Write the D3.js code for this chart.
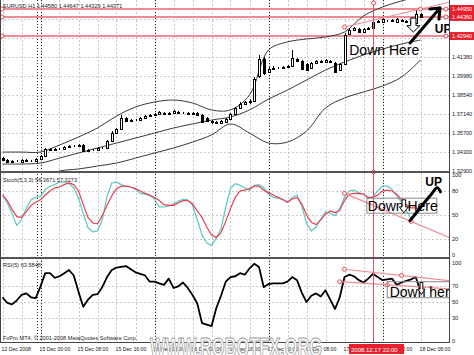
<!DOCTYPE html>
<html>
<head>
<meta charset="utf-8">
<script src="https://cdn.jsdelivr.net/npm/d3@7/dist/d3.min.js"></script>
<style>
  body { margin: 0; background: #fff; }
  svg { display: block; font-family: "Liberation Sans", Arial, sans-serif; }
</style>
</head>
<body>
<svg id="chart" width="474" height="355"></svg>
<script>
// EURUSD H1, 12 Dec 16:00 .. 18 Dec 08:00 (89 bars)
const opens = [1.3386,1.3372,1.3357,1.3364,1.3357,1.3372,1.3364,1.3364,1.3379,1.3401,
  1.3453,1.3446,1.3453,1.3453,1.3468,1.3476,1.3476,1.3483,1.3439,1.3446,
  1.3446,1.3461,1.3461,1.3513,1.3572,1.3602,1.3684,1.3662,1.3669,1.3669,
  1.3684,1.3699,1.3706,1.3714,1.3721,1.3714,1.3721,1.3729,1.3721,1.3721,
  1.3714,1.3721,1.3706,1.3684,1.3662,1.3654,1.3647,1.3654,1.3677,1.3714,
  1.3759,1.3788,1.3803,1.3811,1.3997,1.4123,1.4026,1.4049,1.4056,1.4056,
  1.4064,1.4071,1.4123,1.4108,1.4086,1.4056,1.4093,1.4108,1.4101,1.4108,
  1.4093,1.4041,1.4086,1.4309,1.4339,1.4346,1.4324,1.4346,1.4354,1.4398,
  1.4398,1.4406,1.4413,1.4398,1.4413,1.4406,1.4406,1.4391,1.4458]
const highs = [1.3394,1.3379,1.3372,1.3372,1.3379,1.3379,1.3372,1.3386,1.3409,1.3461,
  1.3461,1.3461,1.3461,1.3476,1.3483,1.3483,1.3491,1.3491,1.3453,1.3453,
  1.3468,1.3468,1.3520,1.3587,1.3610,1.3706,1.3692,1.3677,1.3677,1.3692,
  1.3706,1.3714,1.3721,1.3736,1.3729,1.3729,1.3744,1.3736,1.3729,1.3729,
  1.3729,1.3729,1.3714,1.3692,1.3669,1.3662,1.3669,1.3684,1.3721,1.3766,
  1.3803,1.3811,1.3825,1.3989,1.4153,1.4138,1.4064,1.4071,1.4064,1.4071,
  1.4078,1.4190,1.4130,1.4116,1.4093,1.4101,1.4116,1.4116,1.4123,1.4116,
  1.4101,1.4093,1.4316,1.4354,1.4361,1.4354,1.4354,1.4361,1.4406,1.4413,
  1.4428,1.4413,1.4421,1.4428,1.4421,1.4413,1.4413,1.4488,1.4465]
const lows = [1.3364,1.3349,1.3349,1.3357,1.3349,1.3357,1.3357,1.3357,1.3372,1.3394,
  1.3439,1.3439,1.3446,1.3446,1.3461,1.3468,1.3468,1.3431,1.3431,1.3439,
  1.3439,1.3453,1.3453,1.3505,1.3565,1.3595,1.3654,1.3654,1.3662,1.3662,
  1.3677,1.3692,1.3699,1.3706,1.3706,1.3706,1.3714,1.3714,1.3714,1.3706,
  1.3706,1.3699,1.3647,1.3654,1.3640,1.3640,1.3640,1.3647,1.3669,1.3706,
  1.3751,1.3781,1.3788,1.3803,1.3982,1.4004,1.4019,1.4041,1.4049,1.4049,
  1.4056,1.4064,1.4101,1.4041,1.4034,1.4049,1.4086,1.4093,1.4093,1.4093,
  1.4019,1.4034,1.4078,1.4302,1.4331,1.4316,1.4316,1.4339,1.4346,1.4391,
  1.4391,1.4398,1.4398,1.4391,1.4398,1.4391,1.4383,1.4383,1.4433]
const closes = [1.3372,1.3357,1.3364,1.3365,1.3372,1.3364,1.3366,1.3379,1.3401,1.3453,
  1.3446,1.3453,1.3455,1.3468,1.3476,1.3477,1.3483,1.3439,1.3446,1.3447,
  1.3461,1.3462,1.3513,1.3572,1.3602,1.3684,1.3662,1.3669,1.3670,1.3684,
  1.3699,1.3706,1.3714,1.3729,1.3714,1.3721,1.3736,1.3721,1.3722,1.3714,
  1.3721,1.3706,1.3654,1.3662,1.3654,1.3647,1.3662,1.3677,1.3714,1.3759,
  1.3788,1.3803,1.3811,1.3974,1.4123,1.4019,1.4049,1.4056,1.4057,1.4064,
  1.4071,1.4130,1.4108,1.4049,1.4041,1.4093,1.4108,1.4101,1.4116,1.4101,
  1.4026,1.4086,1.4302,1.4339,1.4354,1.4324,1.4346,1.4354,1.4398,1.4406,
  1.4421,1.4407,1.4406,1.4421,1.4406,1.4398,1.4391,1.4456,1.4437]

// Bollinger bands read every 4 bars
const bbBars = [0,4,8,12,16,20,24,28,32,36,40,44,48,52,56,60,64,68,72,76,80,84,88]
const bbUpper = [1.3431,1.3431,1.3431,1.3483,1.3543,1.3610,1.3699,1.3766,1.3803,1.3818,1.3796,1.3744,
  1.3744,1.3855,1.4190,1.4250,1.4272,1.4287,1.4324,1.4443,1.4510,1.4555,1.4592]
const bbMiddle = [1.3342,1.3342,1.3349,1.3386,1.3424,1.3461,1.3498,1.3535,1.3572,1.3610,1.3640,1.3669,
  1.3692,1.3744,1.3825,1.3892,1.3967,1.4041,1.4101,1.4153,1.4197,1.4235,1.4264]
const bbLower = [1.3238,1.3238,1.3245,1.3290,1.3305,1.3327,1.3349,1.3386,1.3424,1.3461,1.3505,1.3558,
  1.3640,1.3572,1.3498,1.3505,1.3587,1.3759,1.3833,1.3878,1.3922,1.3989,1.4116]

const stochK = [75,65,52,37,44,58,69,72,73,82,86,88,91,91,89,84,71,52,34,29,
  30,44,73,90,91,88,86,85,82,77,76,74,70,60,60,61,64,67,70,69,
  62,44,25,15,12,21,33,60,83,89,87,84,81,87,88,84,76,72,71,70,
  66,72,75,61,40,30,35,45,54,52,49,58,72,80,81,78,76,71,73,80,
  86,86,82,74,66,56,46,51,56.4]
const stochD = [75,68,57,48,47,54,62,66,69,75,80,84,85,88,90,88,80,63,47,40,
  39,49,62,74,83,86,86,85,83,80,77,75,72,68,63,62,62,65,68,68,
  64,55,47,35,25,22,28,42,58,72,80,81,83,86,86,81,78,75,72,69,
  66,70,72,64,50,41,38,44,51,55,53,56,68,76,77,77,76,72,72,75,
  80,81,80,76,69,63,59,59,57.3]
const rsi = [56,49,47,52,59,61,56,55,70,87,87,81,83,87,91,84,63,44,53,59,
  60,69,82,91,94,95,96,92,88,86,84,76,76,74,72,80,68,70,75,68,
  59,48,23,21,19,42,58,76,82,83,87,85,93,99,95,69,73,74,74,74,
  76,82,78,62,50,58,61,57,65,53,41,56,82,85,83,78,75,80,86,82,
  78,79,80,72,75,77,79,82,63.6]

const priceTicks = [1.3290,1.3430,1.3570,1.3714,1.3854,1.3998,1.4138,1.4278,1.4418]
const stochTicks = [100,80,50,20,0]
const rsiTicks = [100,70,50,30,0]
const timeLabelBars = [0,8,16,24,32,40,48,56,64,72,80,88]
const timeLabels = ['12 Dec 2008','15 Dec 00:00','15 Dec 08:00','15 Dec 16:00','16 Dec 00:00','16 Dec 08:00',
  '16 Dec 16:00','17 Dec 00:00','17 Dec 08:00','17 Dec 16:00','18 Dec 00:00','18 Dec 08:00']
const daySeparatorBars = [8,32,56,80]
const hLevels = [1.4495,1.4436,1.4294]
const cursorBar = 78
const cursorLabel = '2008.12.17 22:00'

// trendlines: two anchors each [bar, value]
const mainTrend = [[72,1.4361],[88,1.4495]]
const stochTrend = [[72,77],[86,42]]
const rsiTrendUpper = [[72,92],[84,84]]
const rsiTrendLower = [[71,76],[81,72]]

const svg = d3.select('#chart')
const plotRight = 449
const panels = {
    main: {top: 0, bottom: 171},
    stoch: {top: 173, bottom: 257},
    rsi: {top: 259, bottom: 342}
}

const x = d3.scaleLinear().domain([0, 88]).range([2.5, 420.5])
const yPrice = d3.scaleLinear().domain([1.3290, 1.4138]).range([171, 57])
const yStoch = d3.scaleLinear().domain([0, 100]).range([255, 175])
const yRsi = d3.scaleLinear().domain([0, 100]).range([341, 263])
const px = v => Math.round(v) + 0.5
const redLine = '#f08a94'
const red = '#e8202e'

const defs = svg.append('defs')
Object.entries(panels).forEach(([name, p]) => {
    defs.append('clipPath').attr('id', 'clip-' + name)
        .append('rect').attr('x', 0).attr('y', p.top).attr('width', plotRight).attr('height', p.bottom - p.top)
})

drawGrid()
const gMain = svg.append('g').attr('clip-path', 'url(#clip-main)')
const gStoch = svg.append('g').attr('clip-path', 'url(#clip-stoch)')
const gRsi = svg.append('g').attr('clip-path', 'url(#clip-rsi)')
drawMain(gMain)
drawStoch(gStoch)
drawRsi(gRsi)
drawCursor()
drawFrame()
drawAxes()
drawAnnotations()

function drawGrid() {
    const g = svg.append('g')
    const gridBars = d3.range(0, 89, 4)
    Object.values(panels).forEach(p => {
        g.selectAll(null).data(gridBars).enter().append('line')
            .attr('x1', d => px(x(d))).attr('x2', d => px(x(d)))
            .attr('y1', p.top).attr('y2', p.bottom)
            .attr('stroke', '#c8c8c8').attr('stroke-dasharray', '2,2')
    })
    const hGrid = [
        ...priceTicks.slice(1).map(v => yPrice(v)),
        ...[80, 50, 20].map(v => yStoch(v)),
        ...[70, 50, 30].map(v => yRsi(v))
    ]
    g.selectAll(null).data(hGrid).enter().append('line')
        .attr('x1', 0).attr('x2', plotRight)
        .attr('y1', d => px(d)).attr('y2', d => px(d))
        .attr('stroke', '#c8c8c8').attr('stroke-dasharray', '2,2')

    // day separators
    const sepX = [x(daySeparatorBars[0]) - 4, ...daySeparatorBars.map(b => x(b))]
    g.selectAll(null).data(sepX).enter().append('line')
        .attr('x1', d => px(d)).attr('x2', d => px(d))
        .attr('y1', 0).attr('y2', panels.rsi.bottom)
        .attr('stroke', '#222').attr('stroke-dasharray', '1,2')
}

function drawMain(g) {
    // red horizontal levels
    g.selectAll(null).data(hLevels).enter().append('line')
        .attr('x1', 0).attr('x2', plotRight)
        .attr('y1', d => yPrice(d)).attr('y2', d => yPrice(d))
        .attr('stroke', redLine).attr('stroke-width', 2)
    hLevels.forEach(v => {
        [2, plotRight - 3].forEach(cx => {
            g.append('circle').attr('cx', cx).attr('cy', yPrice(v)).attr('r', 2)
                .attr('fill', '#fff').attr('stroke', red).attr('stroke-width', 0.8)
        })
    })

    // bollinger bands
    const band = vals => d3.line()
        .x((d, i) => x(bbBars[i]))
        .y(d => yPrice(d))
        .curve(d3.curveCatmullRom)(vals)
    ;[bbUpper, bbMiddle, bbLower].forEach(vals => {
        g.append('path').attr('d', band(vals))
            .attr('fill', 'none').attr('stroke', '#3a3a3a').attr('stroke-width', 1)
    })

    // candles
    const candles = opens.map((o, i) => ({i, o, h: highs[i], l: lows[i], c: closes[i]}))
    g.selectAll('line.wick').data(candles).enter().append('line')
        .attr('class', 'wick')
        .attr('x1', d => px(x(d.i))).attr('x2', d => px(x(d.i)))
        .attr('y1', d => yPrice(d.h)).attr('y2', d => yPrice(d.l))
        .attr('stroke', '#000')
    g.selectAll('rect.body').data(candles).enter().append('rect')
        .attr('class', 'body')
        .attr('x', d => Math.round(x(d.i)) - 0.5)
        .attr('y', d => px(yPrice(Math.max(d.o, d.c))))
        .attr('width', 2)
        .attr('height', d => Math.round(yPrice(Math.min(d.o, d.c)) - yPrice(Math.max(d.o, d.c))))
        .attr('fill', d => d.c >= d.o ? '#fff' : '#000')
        .attr('stroke', '#000')

    drawRay(g, mainTrend, yPrice)
}

function drawStoch(g) {
    const line = d3.line().x((d, i) => x(i)).y(d => yStoch(d))
    g.append('path').attr('d', line(stochK))
        .attr('fill', 'none').attr('stroke', '#5cc9c0').attr('stroke-width', 1.2)
    g.append('path').attr('d', line(stochD))
        .attr('fill', 'none').attr('stroke', '#e8404f').attr('stroke-width', 1.2)
    drawRay(g, stochTrend, yStoch)
}

function drawRsi(g) {
    const line = d3.line().x((d, i) => x(i)).y(d => yRsi(d))
    g.append('path').attr('d', line(rsi))
        .attr('fill', 'none').attr('stroke', '#000').attr('stroke-width', 1.8)
        .attr('stroke-linejoin', 'round')
    drawRay(g, rsiTrendUpper, yRsi)
    drawRay(g, rsiTrendLower, yRsi)
}

function drawRay(g, anchors, yScale) {
    const [[b1, v1], [b2, v2]] = anchors
    const bEnd = x.invert(plotRight + 2)
    const vEnd = v1 + (v2 - v1) / (b2 - b1) * (bEnd - b1)
    g.append('line')
        .attr('x1', x(b1)).attr('y1', yScale(v1))
        .attr('x2', x(bEnd)).attr('y2', yScale(vEnd))
        .attr('stroke', redLine).attr('stroke-width', 1.2)
    anchors.forEach(a => {
        g.append('circle').attr('cx', x(a[0])).attr('cy', yScale(a[1])).attr('r', 2)
            .attr('fill', '#fff').attr('stroke', red).attr('stroke-width', 0.8)
    })
}

function drawCursor() {
    const cx = px(x(cursorBar))
    svg.append('line').attr('x1', cx).attr('x2', cx).attr('y1', 0).attr('y2', panels.rsi.bottom)
        .attr('stroke', '#e6505e').attr('stroke-width', 1)
    ;[3, 172].forEach(cy => {
        svg.append('circle').attr('cx', cx).attr('cy', cy).attr('r', 2)
            .attr('fill', '#fff').attr('stroke', red).attr('stroke-width', 0.8)
    })
}

function drawFrame() {
    svg.append('rect').attr('x', 0).attr('y', 171).attr('width', plotRight + 1).attr('height', 2).attr('fill', '#555')
    svg.append('rect').attr('x', 0).attr('y', 257).attr('width', plotRight + 1).attr('height', 2).attr('fill', '#555')
    svg.append('line').attr('x1', plotRight + 0.5).attr('x2', plotRight + 0.5).attr('y1', 0).attr('y2', 343)
        .attr('stroke', '#444')
    svg.append('line').attr('x1', 0).attr('x2', plotRight + 1).attr('y1', 342.5).attr('y2', 342.5)
        .attr('stroke', '#444')
    svg.append('line').attr('x1', 0.5).attr('x2', 0.5).attr('y1', 0).attr('y2', 343)
        .attr('stroke', '#444')
}

function drawAxes() {
    const g = svg.append('g').attr('font-size', 5.6).attr('fill', '#222')
    const tickLabel = (vals, scale, fmt) => {
        g.selectAll(null).data(vals).enter().append('text')
            .attr('x', plotRight + 3).attr('y', d => scale(d)).attr('dy', '0.35em')
            .text(fmt)
    }
    tickLabel(priceTicks, yPrice, d => d.toFixed(5))
    tickLabel(stochTicks, yStoch, d => d)
    tickLabel(rsiTicks, yRsi, d => d)

    // red level labels
    hLevels.forEach(v => {
        const y = yPrice(v)
        g.append('rect').attr('x', plotRight + 1).attr('y', y - 4).attr('width', 24).attr('height', 8).attr('fill', red)
        g.append('text').attr('x', plotRight + 3).attr('y', y).attr('dy', '0.35em').attr('fill', '#fff').text(v.toFixed(5))
    })

    // time labels
    g.selectAll(null).data(timeLabelBars).enter().append('text')
        .attr('x', d => x(d) - 1).attr('y', 351)
        .attr('font-size', 5.2)
        .text((d, i) => timeLabels[i])
    const cx = x(cursorBar)
    g.append('rect').attr('x', cx - 24).attr('y', 344).attr('width', 55).attr('height', 10).attr('fill', red)
    g.append('text').attr('x', cx - 22).attr('y', 351.5).attr('fill', '#fff').attr('font-size', 6).text(cursorLabel)

    // panel captions
    g.append('text').attr('x', 3).attr('y', 8).text('EURUSD,H1  1.44580 1.44647 1.44329 1.44371')
    g.append('text').attr('x', 3).attr('y', 182).text('Stoch(5,3,3) 56.3671 57.3273')
    g.append('text').attr('x', 3).attr('y', 267).text('RSI(5) 63.5848')
    g.append('text').attr('x', 3).attr('y', 340).text('FxPro MT4, \u00a9 2001-2008 MetaQuotes Software Corp.')

    // watermark
    svg.append('text').attr('x', 150).attr('y', 356)
        .attr('font-size', 26).attr('font-weight', 'bold')
        .attr('textLength', 172).attr('lengthAdjust', 'spacingAndGlyphs')
        .attr('fill', '#fff').attr('stroke', '#9a9a9a').attr('stroke-width', 1)
        .text('WWW.ROBOTFX.ORG')
}

function hollowDown(g, cx, top, w, h) {
    const sw = w * 0.4, headY = top + h * 0.55
    g.append('path')
        .attr('d', `M${cx - sw / 2},${top} L${cx + sw / 2},${top} L${cx + sw / 2},${headY} L${cx + w / 2},${headY}
            L${cx},${top + h} L${cx - w / 2},${headY} L${cx - sw / 2},${headY} Z`)
        .attr('fill', '#fff').attr('stroke', '#000').attr('stroke-width', 1)
}

function drawAnnotations() {
    // main panel
    const gm = svg.append('g').attr('clip-path', 'url(#clip-main)')
    gm.append('text').attr('x', x(73)).attr('y', yPrice(1.4153)).attr('font-size', 14).text('Down Here')
    hollowDown(gm, x(86.5), yPrice(1.4428), 13, 14)
    const tail = [x(85.8), yPrice(1.4242)], head = [x(92.1), yPrice(1.4502)]
    gm.append('line').attr('x1', tail[0]).attr('y1', tail[1]).attr('x2', head[0]).attr('y2', head[1])
        .attr('stroke', '#000').attr('stroke-width', 3).attr('stroke-linecap', 'round')
    gm.append('path').attr('d', `M${head[0] - 10},${head[1] + 1} L${head[0]},${head[1]} L${head[0] - 1},${head[1] + 11}`)
        .attr('fill', 'none').attr('stroke', '#000').attr('stroke-width', 3)
        .attr('stroke-linecap', 'round').attr('stroke-linejoin', 'round')
    gm.append('text').attr('x', x(91)).attr('y', yPrice(1.4316)).attr('font-size', 12).attr('font-weight', 'bold').text('UP')

    // stochastic panel
    const gs = svg.append('g').attr('clip-path', 'url(#clip-stoch)')
    gs.append('rect').attr('x', x(76.7)).attr('y', yStoch(71)).attr('width', 70).attr('height', 15)
        .attr('fill', 'none').attr('stroke', '#888')
    gs.append('text').attr('x', x(76.9)).attr('y', yStoch(55)).attr('font-size', 14).text('Down Here')
    hollowDown(gs, x(84.5), yStoch(69), 9, 13)
    const check = [[85.8, 43], [90.4, 77], [91.5, 84], [92.2, 79]]
    gs.append('path').attr('d', d3.line().x(d => x(d[0])).y(d => yStoch(d[1])).curve(d3.curveCatmullRom)(check))
        .attr('fill', 'none').attr('stroke', '#000').attr('stroke-width', 3).attr('stroke-linecap', 'round')
    gs.append('text').attr('x', x(89)).attr('y', yStoch(86)).attr('font-size', 12).attr('font-weight', 'bold').text('UP')

    // rsi panel
    const gr = svg.append('g').attr('clip-path', 'url(#clip-rsi)')
    gr.append('rect').attr('x', x(81)).attr('y', yRsi(76)).attr('width', 75).attr('height', 16)
        .attr('fill', 'none').attr('stroke', '#888')
    gr.append('text').attr('x', x(81.5)).attr('y', yRsi(57)).attr('font-size', 14).text('Down here')
    hollowDown(gr, x(88.2), yRsi(75), 7, 12)
}
</script>
</body>
</html>
